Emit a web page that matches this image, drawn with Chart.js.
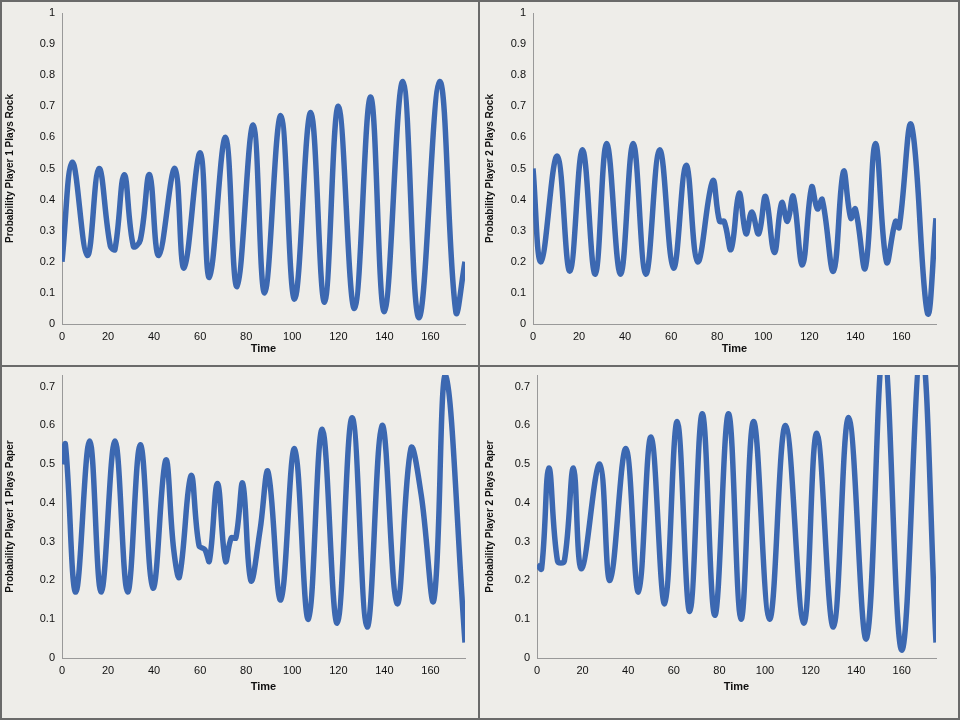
<!DOCTYPE html>
<html><head><meta charset="utf-8">
<script src="https://cdn.jsdelivr.net/npm/chart.js@4"></script>
<style>
body{margin:0;background:#eeede9;width:960px;height:720px;position:relative;overflow:hidden;font-family:"Liberation Sans",Arial,sans-serif}
.p{position:absolute;width:480px;height:360px}
.p canvas{width:480px;height:360px}
.b{position:absolute;background:#6a6a6a}
</style></head><body>
<div class="p" style="left:0;top:0"><canvas id="c1" width="480" height="360"></canvas></div>
<div class="p" style="left:480px;top:0"><canvas id="c2" width="480" height="360"></canvas></div>
<div class="p" style="left:0;top:360px"><canvas id="c3" width="480" height="360"></canvas></div>
<div class="p" style="left:480px;top:360px"><canvas id="c4" width="480" height="360"></canvas></div>
<div class="b" style="left:0;top:0;width:960px;height:2px"></div>
<div class="b" style="left:0;top:365px;width:960px;height:2px"></div>
<div class="b" style="left:0;top:718px;width:960px;height:2px"></div>
<div class="b" style="left:0;top:0;width:2px;height:720px"></div>
<div class="b" style="left:478px;top:0;width:2px;height:720px"></div>
<div class="b" style="left:958px;top:0;width:2px;height:720px"></div>
<script>
const p1RockT = [0,4.5,11,16,21,23,27,31,34,38,42,49,53,60,64,71,76,83,88,95,101,108,114,120,127,134,140,148,155,164,171,175];
const p1RockV = [0.20,0.52,0.22,0.50,0.25,0.24,0.48,0.25,0.27,0.48,0.22,0.50,0.18,0.55,0.15,0.60,0.12,0.64,0.10,0.67,0.08,0.68,0.07,0.70,0.05,0.73,0.04,0.78,0.02,0.78,0.04,0.20];
const p2RockT = [0,3.5,10.5,16,21.5,27,32,38,43.5,49,55,61,66.5,71.5,78,81,83,86,89.5,92.5,95,98,101,104.8,108,110.5,113,117,121,123.5,125.6,130.5,134.8,138,140,144.3,148.7,153.5,157.4,159,164.3,171.3,175];
const p2RockV = [0.50,0.20,0.54,0.17,0.56,0.16,0.58,0.16,0.58,0.16,0.56,0.18,0.51,0.20,0.46,0.33,0.33,0.24,0.42,0.29,0.36,0.29,0.41,0.23,0.39,0.33,0.41,0.19,0.44,0.37,0.40,0.17,0.49,0.34,0.37,0.18,0.58,0.20,0.33,0.31,0.64,0.035,0.34];
const p1PaperT = [0,1.5,6,12,17,23,28.5,34,39.5,45,48.5,51,56,59.5,62,64,67.5,71,73.5,75.5,78.5,82,86,89.5,95,101,107,113,119.5,126,132.5,139,145.5,151.5,156,161.5,166.5,175];
const p1PaperV = [0.50,0.55,0.17,0.56,0.17,0.56,0.17,0.55,0.18,0.51,0.28,0.21,0.47,0.29,0.28,0.25,0.45,0.25,0.31,0.31,0.45,0.20,0.33,0.48,0.15,0.54,0.10,0.59,0.09,0.62,0.08,0.60,0.14,0.54,0.42,0.15,0.73,0.04];
const p2PaperT = [0,2,5.2,9,12,16,19.5,27.5,32,39,44.5,50,56,61.5,67,72.5,78,84,89.5,95,102,109,117,122.7,130,136.7,144.5,152,160,168.5,175];
const p2PaperV = [0.24,0.23,0.49,0.25,0.25,0.49,0.23,0.50,0.20,0.54,0.17,0.57,0.14,0.61,0.12,0.63,0.11,0.63,0.10,0.61,0.10,0.60,0.09,0.58,0.08,0.62,0.05,0.80,0.02,0.80,0.04];
const xTicks = [0,20,40,60,80,100,120,140,160];

function mk(id, T, V, yTitle, yMax, left, right, top, xh, bottomPad){
  const pts = T.map((t,i)=>({x:t,y:V[i]}));
  new Chart(document.getElementById(id),{
    type:'line',
    data:{datasets:[{data:pts,borderColor:'#3c68b1',borderWidth:5.5,pointRadius:0,tension:0.4,fill:false}]},
    options:{responsive:false,animation:false,
      layout:{padding:{left:0,right:right,top:top,bottom:bottomPad}},
      plugins:{legend:{display:false},tooltip:{enabled:false}},
      scales:{
        x:{type:'linear',min:0,max:175,
          afterBuildTicks:s=>{s.ticks=xTicks.map(v=>({value:v}));},
          afterFit:s=>{s.height=xh;},
          grid:{display:false,drawTicks:true,tickLength:4,tickColor:'#888'},
          border:{color:'#999',width:1},
          ticks:{color:'#111',font:{size:11,family:'Liberation Sans'},maxRotation:0,padding:2},
          title:{display:true,text:'Time',color:'#111',font:{size:11,weight:'bold',family:'Liberation Sans'},padding:{top:6}}},
        y:{min:0,max:yMax,
          afterBuildTicks:s=>{const a=[];for(let i=0;i<=10;i++){const v=i/10;if(v<=yMax+1e-9)a.push({value:v});}s.ticks=a;},
          afterFit:s=>{s.width=left;},
          grid:{display:false,drawTicks:true,tickLength:4,tickColor:'#888'},
          border:{color:'#999',width:1},
          ticks:{color:'#111',font:{size:11,family:'Liberation Sans'},callback:v=>String(Math.round(v*10)/10)},
          title:{display:true,text:yTitle,color:'#111',font:{size:10,weight:'bold',family:'Liberation Sans'},padding:{bottom:4}}}
      }}
  });
}
mk('c1',p1RockT,p1RockV,'Probability Player 1 Plays Rock',1,62,15,13,36,0);
mk('c2',p2RockT,p2RockV,'Probability Player 2 Plays Rock',1,53,24,13,36,0);
mk('c3',p1PaperT,p1PaperV,'Probability Player 1 Plays Paper',0.73,62,15,15,40,22);
mk('c4',p2PaperT,p2PaperV,'Probability Player 2 Plays Paper',0.73,57,24,15,40,22);
</script></body></html>
